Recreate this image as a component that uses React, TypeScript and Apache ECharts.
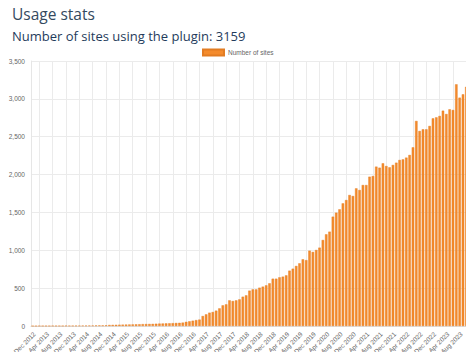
import React, { useEffect, useRef } from "react";
import * as echarts from "echarts";

// Months from Oct 2012 to Aug 2023 (131 monthly categories)
const MONTH_NAMES = ["Jan", "Feb", "Mar", "Apr", "May", "Jun", "Jul", "Aug", "Sep", "Oct", "Nov", "Dec"];
const START_YEAR = 2012;
const START_MONTH = 9; // Oct
const MONTH_COUNT = 131;
const categories: string[] = [];
for (let i = 0; i < MONTH_COUNT; i++) {
  const m = START_MONTH + i;
  categories.push(MONTH_NAMES[m % 12] + " " + (START_YEAR + Math.floor(m / 12)));
}

// Number of sites per month
const siteCounts = [
  0, 0, 1, 1, 1, 1, 2, 2, 2, 2, 3, 3, 3,
  4, 4, 5, 5, 6, 6, 7, 8, 8, 9,
  14, 15, 16, 17, 18, 19, 20, 21,
  22, 23, 25, 26, 27, 28, 30, 32,
  33, 35, 36, 38, 40, 42, 45,
  55, 62, 70, 78, 85,
  132, 154, 176, 185, 203, 233, 273, 286, 339, 330,
  339, 352, 387, 405, 467, 484, 484, 506, 520, 537,
  564, 625, 625, 643, 652, 669, 731, 757, 793, 828,
  881, 870, 995, 978, 1004, 1035, 1136, 1211, 1246,
  1444, 1497, 1541, 1620, 1664, 1730, 1717, 1818, 1796, 1862,
  1862, 1972, 1981, 2105, 2091, 2149, 2113, 2096, 2127, 2157,
  2193, 2201, 2224, 2259, 2360, 2708, 2576, 2598, 2598, 2642,
  2743, 2756, 2774, 2844, 2800, 2862, 2853, 3192, 3016, 3060,
  3159,
];

const Y_MIN = 0;
const Y_MAX = 3500;
const Y_STEP = 500;
const TITLE = "Usage stats";
const SUBTITLE = "Number of sites using the plugin: 3159";
const SERIES_NAME = "Number of sites";

const showLabel = (index: number) => (index - 2) % 4 === 0;

export default function App() {
  const ref = useRef<HTMLDivElement>(null);
  useEffect(() => {
    if (!ref.current) return;
    const chart = echarts.init(ref.current, null, { renderer: "svg" });
    const small = { fontFamily: "Liberation Sans, Arial, sans-serif", fontSize: 6.5, color: "#666" };
    chart.setOption({
      animation: false,
      title: [
        {
          text: TITLE,
          left: 7,
          top: 1,
          textStyle: { fontFamily: "Open Sans", fontSize: 15.5, fontWeight: "normal", color: "#34495e" },
        },
        {
          text: SUBTITLE,
          left: 7,
          top: 24,
          textStyle: { fontFamily: "Open Sans", fontSize: 13, fontWeight: "normal", color: "#1f3c5c" },
        },
      ],
      legend: {
        data: [SERIES_NAME],
        left: 202,
        top: 48.5,
        padding: 0,
        icon: "rect",
        itemWidth: 21,
        itemHeight: 6,
        itemGap: 4,
        textStyle: { ...small, padding: [0, 0, 0, -1] },
      },
      grid: { left: 31, right: 6, top: 61, bottom: 34, containLabel: false },
      xAxis: {
        type: "category",
        data: categories,
        boundaryGap: true,
        axisLine: { show: true, lineStyle: { color: "#dcdcdc", width: 1 } },
        axisTick: {
          show: true,
          inside: true,
          length: 265,
          alignWithLabel: true,
          interval: (index: number) => showLabel(index),
          lineStyle: { color: "#ebebeb", width: 1 },
        },
        axisLabel: {
          ...small,
          interval: (index: number) => showLabel(index),
          rotate: 45,
          margin: 2,
          padding: [0, 7, 0, 0],
        },
        splitLine: { show: false },
      },
      yAxis: {
        type: "value",
        min: Y_MIN,
        max: Y_MAX,
        interval: Y_STEP,
        axisLine: { show: true, lineStyle: { color: "#e6e6e6" } },
        axisTick: { show: false },
        axisLabel: {
          ...small,
          margin: 6,
          formatter: (v: number) => v.toLocaleString("en-US"),
        },
        splitLine: { show: true, lineStyle: { color: "#ebebeb", width: 1 } },
      },
      series: [
        {
          name: SERIES_NAME,
          type: "bar",
          data: siteCounts,
          barCategoryGap: "26%",
          itemStyle: { color: "#f48b2c", borderColor: "#e27c22", borderWidth: 0.4 },
        },
      ],
    });
    return () => chart.dispose();
  }, []);
  return <div ref={ref} style={{ width: 474, height: 360, margin: -8 }} />;
}
